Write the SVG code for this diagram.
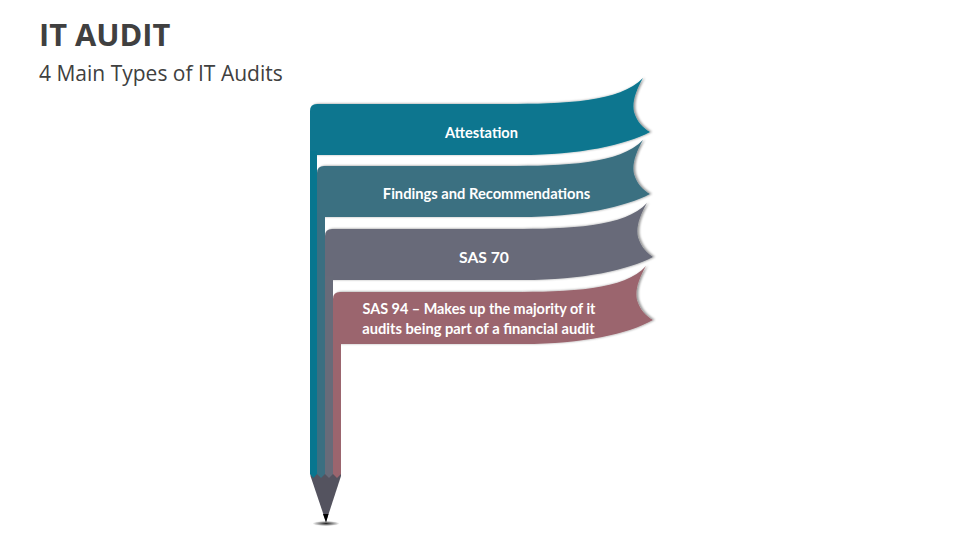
<svg xmlns="http://www.w3.org/2000/svg" width="960" height="540" viewBox="0 0 960 540">
<defs>
<filter id="sh" x="-5%" y="-15%" width="112%" height="130%"><feDropShadow dx="2" dy="-0.3" stdDeviation="1.1" flood-color="#000" flood-opacity="0.4"/></filter>
<radialGradient id="shadow"><stop offset="0" stop-color="#000" stop-opacity="0.85"/><stop offset="1" stop-color="#000" stop-opacity="0.05"/></radialGradient>
</defs>
<style>
.t{font-family:"Lato","Open Sans",sans-serif;font-weight:700;fill:#fff;text-anchor:middle}
.h{font-family:"Open Sans","Liberation Sans",sans-serif;fill:#404040}
</style>
<rect width="960" height="540" fill="#fff"/>
<text class="h" x="39" y="46" font-size="30.800" font-weight="700">IT AUDIT</text>
<text class="h" x="39" y="81" font-size="21">4 Main Types of IT Audits</text>
<g id="connectors"/>
<g id="pencil-tip">
<ellipse cx="326" cy="523.500" rx="13" ry="2.500" fill="url(#shadow)"/>
<path d="M310.500 470H341L341 476L326 522L310.500 476Z" fill="#54535f"/>
<path d="M323 514L328.500 514L326 522.500Z" fill="#000"/>
</g>
<g id="node-4"><path filter="url(#sh)" d="M333 299Q333 292 340 292H510C570 292 625 290 646 266C638 280 635 291 637 300C640 310 646 316 653 320C628 334 583 344 523 344H333Z" fill="#9b656e"/>
<path d="M333 340H341V474L337 478L333 474Z" fill="#9b656e"/>
<text class="t" x="479" y="314" font-size="14.400">SAS 94 – Makes up the majority of it</text>
<text class="t" x="478.500" y="334" font-size="14.700">audits being part of a financial audit</text></g>
<g id="node-3"><path filter="url(#sh)" d="M325 236Q325 229 332 229H510C570 229 625 227 647 203C639 217 636 228 638 237C641 247 647 253 653 257C628 270 583 280 523 280H325Z" fill="#686b79"/>
<path d="M325 276H333V474L329 478L325 474Z" fill="#686b79"/>
<text class="t" x="484" y="263" font-size="15.700">SAS 70</text></g>
<g id="node-2"><path filter="url(#sh)" d="M317 173Q317 166 324 166H505C565 166 620 164 643 140C635 154 632 165 634 174C637 184 643 190 650 194C625 207 580 217 520 217H317Z" fill="#3b6f81"/>
<path d="M317 213H325V474L321 478L317 474Z" fill="#3b6f81"/>
<text class="t" x="486.500" y="199" font-size="14.700">Findings and Recommendations</text></g>
<g id="node-1"><path filter="url(#sh)" d="M310 111Q310 104 317 104H505C565 104 620 102 643 78C635 92 632 103 634 112C637 122 643 128 650 132C625 145 580 155 520 155H310Z" fill="#08768f"/>
<path d="M310 151H317V474L313.500 478L310 474Z" fill="#08768f"/>
<text class="t" x="481.500" y="138" font-size="14.600">Attestation</text></g>
</svg>
